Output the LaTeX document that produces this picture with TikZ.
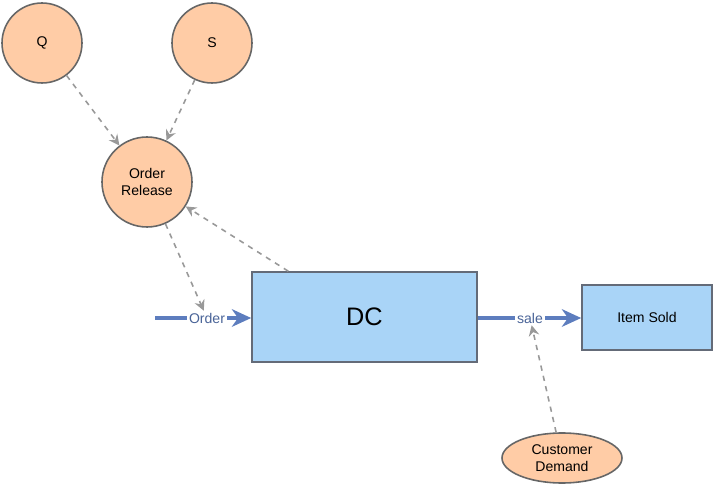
\documentclass[tikz,border=0pt]{standalone}
\usepackage{fontspec}
\setmainfont{Liberation Sans}
\usepackage{tikz}
\usetikzlibrary{shapes.geometric,arrows.meta,positioning}
\usepackage{xcolor}
\definecolor{peach}{HTML}{FFCCA6}
\definecolor{skyblue}{HTML}{A9D4F7}
\definecolor{flowblue}{HTML}{5D7DBE}
\definecolor{edgegray}{HTML}{666666}

\begin{document}
\begin{tikzpicture}[
    param/.style={circle, draw=edgegray, line width=0.9pt, fill=peach, font=\footnotesize, align=center},
    stock/.style={rectangle, draw=edgegray!80!flowblue, line width=0.9pt, fill=skyblue},
    flow/.style={-{Stealth[length=11pt,width=10pt,inset=3.5pt]}, line width=2pt, flowblue},
    info/.style={-{Stealth[length=6pt,width=6pt,inset=2pt]}, gray!80, line width=0.9pt, dash pattern=on 3pt off 3pt},
    lbl/.style={fill=white, inner sep=1pt, text=flowblue!80!black, font=\footnotesize}
]
    \useasboundingbox (0,0) rectangle (14.28,-9.68);

    % Parameters
    \node[param, minimum size=1.6cm] (q) at (0.84,-0.86) {Q};
    \node[param, minimum size=1.6cm] (s) at (4.24,-0.86) {S};
    \node[param, minimum size=1.8cm] (or) at (2.94,-3.64) {Order\\Release};

    % Stocks
    \node[stock, minimum width=4.5cm, minimum height=1.8cm, font=\Large] (dc) at (7.29,-6.34) {DC};
    \node[stock, minimum width=2.6cm, minimum height=1.3cm, font=\footnotesize] (sold) at (12.94,-6.35) {Item Sold};
    \node[ellipse, draw=edgegray, line width=0.9pt, fill=peach, minimum width=2.4cm, minimum height=1cm,
          font=\footnotesize, align=center, inner sep=0pt] (cd) at (11.24,-9.16) {Customer\\Demand};

    % Flows
    \coordinate (src) at (3.1,-6.36);
    \draw[flow] (src) -- (dc.west |- src);
    \draw[flow] (dc.east |- src) -- (sold.west |- src);
    \node[lbl] (order) at (4.14,-6.36) {Order};
    \node[lbl] (sale) at (10.6,-6.36) {sale};

    % Information links
    \draw[info] (q) -- (or);
    \draw[info] (s) -- (or);
    \draw[info] (dc.149) -- (or);
    \draw[info] (or) -- (order);
    \draw[info] (cd) -- (sale);
\end{tikzpicture}
\end{document}
